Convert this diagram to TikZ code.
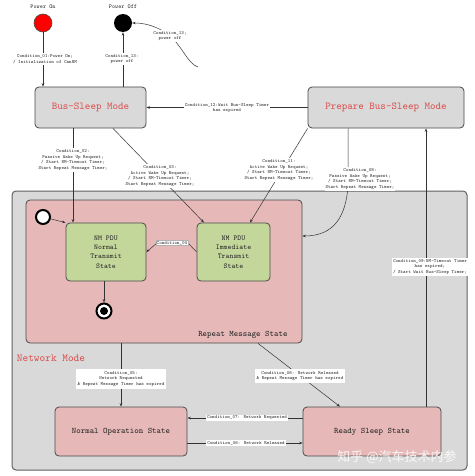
\documentclass[tikz,border=0pt]{standalone}
\usepackage{fontspec}
\newfontfamily\cjkfont{Noto Sans CJK SC}
\usetikzlibrary{arrows.meta}
\definecolor{boxgray}{HTML}{D9D9D9}
\definecolor{pinkc}{HTML}{E6B9B8}
\definecolor{greenc}{HTML}{C4D79B}
\definecolor{bordc}{HTML}{4A4A4A}
\definecolor{redc}{HTML}{DC4A4A}
\begin{document}
\begin{tikzpicture}[x=1pt,y=-1pt]
\tikzset{
  state/.style={draw=bordc, line width=0.8pt, rounded corners=4pt, inner sep=0pt, align=center},
  lbl/.style={fill=white, inner sep=1pt, align=center, font=\ttfamily\fontsize{4.8}{5.8}\selectfont, text=black!85},
  arr/.style={draw=black!80, line width=0.5pt, -{Stealth[length=3.5pt,width=2.6pt]}},
  big/.style={font=\ttfamily\fontsize{10.5}{12}\selectfont, text=redc},
  mid/.style={font=\ttfamily\fontsize{8.4}{10}\selectfont, text=black!85},
  pdu/.style={font=\ttfamily\fontsize{7.4}{9.3}\selectfont, text=black!85},
}
\useasboundingbox (0,0) rectangle (474,476);
\fill[white] (0,0) rectangle (474,476);

% containers
\node[state, fill=boxgray, draw=gray!75!black, line width=1pt, minimum width=455pt, minimum height=279pt] (net) at (239.5,330.5) {};
\node[state, fill=pinkc, minimum width=276pt, minimum height=143pt] (rep) at (164,271.5) {};

% states
\node[state, fill=boxgray, minimum width=111pt, minimum height=41pt, big] (bus) at (90.5,107.5) {Bus-Sleep Mode};
\node[state, fill=boxgray, minimum width=156pt, minimum height=41pt, big] (prep) at (386,107.5) {Prepare Bus-Sleep Mode};
\node[state, fill=greenc, minimum width=80pt, minimum height=58pt, pdu] (nmn) at (106,252) {NM PDU\\Normal\\Transmit\\State};
\node[state, fill=greenc, minimum width=73pt, minimum height=58pt, pdu] (nmi) at (233.5,252) {NM PDU\\Immediate\\Transmit\\State};
\node[state, fill=pinkc, minimum width=132pt, minimum height=49pt, mid] (normop) at (121,431.5) {Normal Operation State};
\node[state, fill=pinkc, minimum width=138pt, minimum height=49pt, mid] (ready) at (372,431.5) {Ready Sleep State};

% pseudo states
\node[circle, fill=red, draw=black!70, line width=0.6pt, minimum size=18pt, inner sep=0pt] (pon) at (43,23) {};
\node[circle, fill=black, minimum size=18pt, inner sep=0pt] (poff) at (123,23) {};
\node[font=\ttfamily\fontsize{5.9}{7}\selectfont, text=black!85] (ponl) at (43,7) {Power On};
\node[font=\ttfamily\fontsize{5.9}{7}\selectfont, text=black!85] (poffl) at (123,7) {Power Off};
\node[circle, draw=black, line width=2pt, fill=white, minimum size=14pt, inner sep=0pt] (init) at (43,217) {};
\node[circle, draw=black, line width=2pt, fill=white, minimum size=15pt, inner sep=0pt] (fin) at (104,311) {};
\node[circle, fill=black, minimum size=8pt, inner sep=0pt] (finc) at (fin) {};

% texts
\node[font=\ttfamily\fontsize{10.8}{12}\selectfont, text=redc] (netl) at (51,358) {Network Mode};
\node[mid, anchor=east] (repl) at (291,335) {Repeat Message State};

% helper coordinates
\coordinate (x02) at (73,0);
\coordinate (x03a) at (113,0);
\coordinate (x03b) at (204,0);
\coordinate (x11) at (250,0);
\coordinate (p08a) at (348,186);
\coordinate (p08b) at (302,236);
\coordinate (x09) at (426,0);
\coordinate (x06a) at (258,0);
\coordinate (x06b) at (340,0);
\coordinate (y07) at (0,418);
\coordinate (y06) at (0,443);
\coordinate (c13s) at (198,67);
\coordinate (c04a) at (188,243);
\coordinate (c04b) at (157,243);

% connectors
\draw[arr] (pon) -- (bus.north -| pon);
\draw[arr] (bus.north -| poff) -- (poff);
\draw[arr] (c13s) .. controls (188,64) and (182,46) .. (170,36) .. controls (160,28) and (148,23) .. (poff.east);
\draw[arr] (prep.west) -- (bus.east);
\draw[arr] (bus.south -| x02) -- (nmn.north -| x02);
\draw[arr] (bus.south -| x03a) -- (nmi.north -| x03b);
\draw[arr] (prep.south west) -- (nmi.north -| x11);
\draw[arr] (prep.south -| p08a) -- (p08a) .. controls (346,215) and (335,236) .. (rep.east |- p08b);
\draw[arr] (ready.north -| x09) -- (prep.south -| x09);
\draw[arr] (init) -- (nmn.north west);
\draw[arr] (nmn.south -| fin) -- (fin);
\draw[arr] (nmi.west) -- (c04a) -- (c04b) -- (nmn.east);
\draw[arr] (rep.south -| normop) -- (normop.north);
\draw[arr] (rep.south -| x06a) -- (ready.north -| x06b);
\draw[arr] (ready.west |- y07) -- (normop.east |- y07);
\draw[arr] (normop.east |- y06) -- (ready.west |- y06);

% labels
\node[lbl] (l01) at (45,59) {Condition\_01:Power On;\\/ Initialization of CanNM};
\node[lbl] (l13a) at (122,59) {Condition\_13:\\power off};
\node[lbl] (l13b) at (170,36) {Condition\_13;\\power off};
\node[lbl] (l12) at (227,108) {Condition\_12:Wait Bus-Sleep Timer\\has expired};
\node[lbl] (l02) at (73,160) {Condition\_02:\\Passive Wake Up Request;\\/ Start NM-Timeout Timer;\\Start Repeat Message Timer;};
\node[lbl] (l03) at (160,176) {Condition\_03:\\Active Wake Up Request;\\/ Start NM-Timeout Timer;\\Start Repeat Message Timer;};
\node[lbl] (l11) at (279,170) {Condition\_11:\\Active Wake Up Request;\\/ Start NM-Timeout Timer;\\Start Repeat Message Timer;};
\node[lbl] (l08) at (360,179) {Condition\_08:\\Passive Wake Up Request;\\/ Start NM-Timeout Timer;\\Start Repeat Message Timer;};
\node[lbl] (l09) at (430,267) {Condition\_09:NM-Timeout Timer\\has expired;\\/ Start Wait Bus-Sleep Timer;};
\node[lbl, draw=gray!60, line width=0.3pt, inner sep=0.8pt] (l04) at (172,243) {Condition\_04};
\node[lbl, inner sep=2pt] (l05) at (121,379) {Condition\_05:\\Network Requested\\\& Repeat Message Timer has expired};
\node[lbl, inner sep=2pt] (l06) at (300,376) {Condition\_06: Network Released\\\& Repeat Message Timer has expired};
\node[lbl] (l07) at (247,418) {Condition\_07: Network Requested};
\node[lbl] (l06b) at (246,443) {Condition\_06: Network Released};

% watermark
\node[text=white, opacity=0.85, font=\cjkfont\fontsize{13}{14}\selectfont] (wm) at (397,457) {知乎 @汽车技术内参};
\end{tikzpicture}
\end{document}
